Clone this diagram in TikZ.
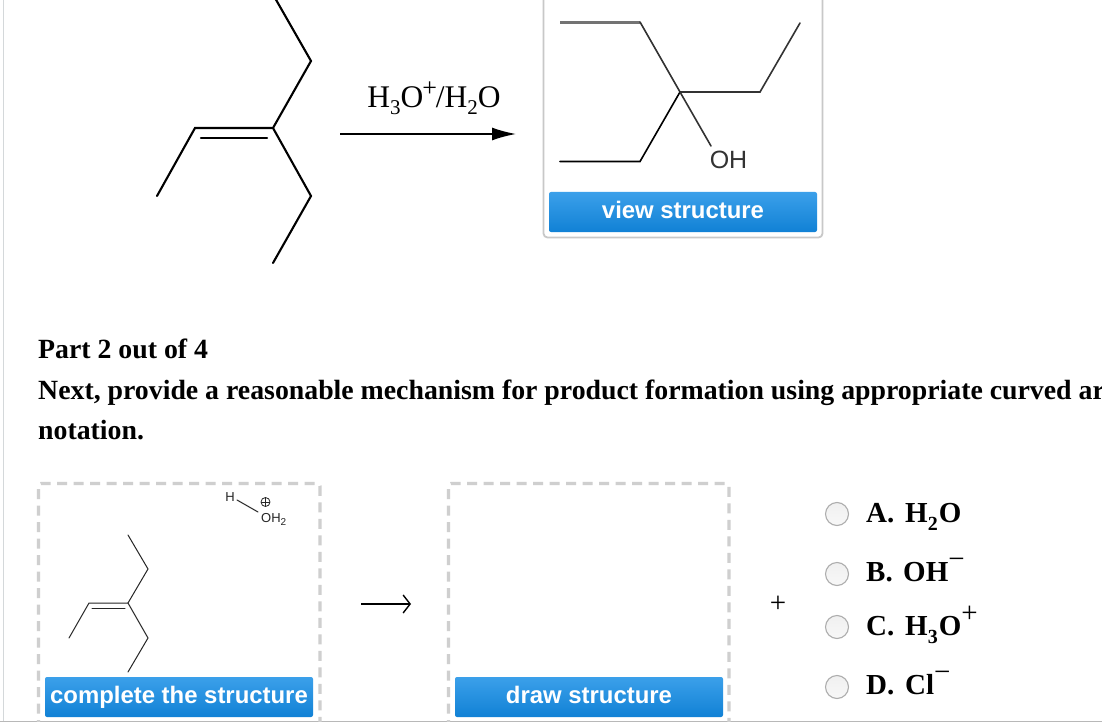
\documentclass[tikz,border=0pt]{standalone}
\usepackage{fontspec}
\setmainfont{Liberation Serif}
\setsansfont{Liberation Sans}
\usetikzlibrary{arrows.meta}
\definecolor{panelgray}{HTML}{C8C8C8}
\definecolor{dashgray}{HTML}{CFCFCF}
\definecolor{edgegray}{HTML}{D4D8DA}
\definecolor{btop}{HTML}{3BA0EA}
\definecolor{bbot}{HTML}{1181D5}
\tikzset{
  x=1pt,y=-1pt,
  bond/.style={line width=2.1pt,line cap=round,line join=miter,black},
  midbond/.style={line width=1.6pt,line cap=round,line join=miter,draw=black!80},
  thinbond/.style={line width=1pt,line cap=round,line join=miter,black!85},
  bluebtn/.style={rounded corners=2pt,top color=btop,bottom color=bbot,draw=none},
  btntext/.style={font=\sffamily\bfseries\fontsize{23.9}{24}\selectfont,text=white,inner sep=0pt,anchor=base},
  dashbox/.style={draw=dashgray,line width=3.2pt,dash pattern=on 10pt off 6.5pt,rounded corners=2.5pt},
  qtext/.style={font=\bfseries\fontsize{27.8}{28}\selectfont,anchor=base west,inner sep=0pt},
  opt/.style={font=\bfseries\fontsize{29}{29}\selectfont,anchor=base west,inner sep=0pt},
  radio/.style={circle,minimum size=23pt,inner sep=0pt,draw=black!32,line width=1.1pt,top color=black!6,bottom color=black!3},
}
\newcommand{\subs}[1]{\raisebox{-0.28em}{\fontsize{20}{20}\selectfont #1\kern1pt}}
\newcommand{\sups}[1]{\raisebox{0.42em}{\fontsize{29}{29}\mdseries\selectfont #1}}
\begin{document}
\begin{tikzpicture}
\useasboundingbox (0,0) rectangle (1102,722);
\clip (0,0) rectangle (1102,722);
\fill[white] (0,0) rectangle (1102,722);
% page edges
\draw[edgegray,line width=1.2pt] (3.5,0) -- (3.5,721);
\draw[black!28,line width=1.2pt] (0,721.5) -- (1102,721.5);

% reactant
\draw[bond] (275,-2) -- (311,61) -- (273,128) -- (195,128) -- (157,196);
\draw[bond] (273,128) -- (311,196) -- (273,263);
\draw[bond] (201,138) -- (267,138);

% reagent arrow
\coordinate (ra) at (340,134);
\coordinate (rb) at (516,134);
\draw[line width=1.5pt,-{Latex[length=24pt,width=13pt,inset=6pt]}] (ra) -- (rb);
\node[anchor=base,inner sep=0pt,font=\fontsize{31.5}{32}\selectfont] (reagent) at (434,108)
  {H\raisebox{-0.2em}{\fontsize{21}{21}\selectfont 3}O\raisebox{0.36em}{\fontsize{26}{26}\selectfont\kern-1pt+\kern-1pt}/H\raisebox{-0.2em}{\fontsize{21}{21}\selectfont 2}O};

% product panel
\draw[panelgray,line width=1.8pt,rounded corners=4pt] (543.5,-8) -- (543.5,237.5) -- (822.5,237.5) -- (822.5,-8);
\draw[black!55,line width=3pt] (560,22.5) -- (640,22.5);
\draw[midbond] (640,22) -- (680,92);
\draw[midbond] (680,92) -- (760,92) -- (800,23);
\draw[midbond,black] (560,161.5) -- (640,161.5) -- (680,92);
\draw[midbond] (680,92) -- (711,146);
\node[font=\sffamily\fontsize{25}{25}\selectfont,text=black!80,anchor=base,inner sep=0pt] (oh) at (728.5,168) {OH};
\node[bluebtn,minimum width=268pt,minimum height=40pt,inner sep=0pt] (viewbtn) at (683,212) {};
\node[btntext] at (683,218) {view structure};

% question
\node[qtext] (part) at (38,358) {Part 2 out of 4};
\node[qtext] (next) at (38,399) {Next, provide a reasonable mechanism for product formation using appropriate curved ar};
\node[qtext] (nota) at (38,439) {notation.};

% dashed boxes
\draw[dashbox] (38.5,730) -- (38.5,483.5) -- (320,483.5) -- (320,730);
\draw[dashbox] (448.5,730) -- (448.5,483.5) -- (729,483.5) -- (729,730);

% small molecule
\draw[thinbond] (128,535) -- (148,569) -- (128,603) -- (89,603) -- (69,638);
\draw[thinbond] (128,603) -- (148,638) -- (128,672);
\draw[thinbond] (92,608) -- (125,608);
\node[font=\sffamily\fontsize{13}{13}\selectfont,inner sep=0pt,anchor=base,text=black!85] (smallh) at (230,501) {H};
\node[font=\sffamily\fontsize{13}{13}\selectfont,inner sep=0pt,anchor=base west,text=black!85] (smallo) at (261,522) {OH\raisebox{-0.25em}{\fontsize{10}{10}\selectfont 2}};
\draw[thinbond] (237,500) -- (258,512);
\node[circle,draw=black!85,line width=0.8pt,minimum size=9pt,inner sep=0pt] (chg) at (265.5,502) {};
\draw[black!85,line width=0.8pt] (chg.west) -- (chg.east) (chg.north) -- (chg.south);

\node[bluebtn,minimum width=268pt,minimum height=40pt,inner sep=0pt] (cbtn) at (179,697) {};
\node[btntext] at (179,703) {complete the structure};
\node[bluebtn,minimum width=268pt,minimum height=40pt,inner sep=0pt] (dbtn) at (589,697) {};
\node[btntext] at (589,703) {draw structure};

% reaction arrow and plus
\coordinate (aa) at (361,604);
\coordinate (ab) at (411,604);
\draw[line width=1.4pt,-{Straight Barb[length=7pt,width=18pt,line width=1.4pt]}] (aa) -- (ab);
\node[font=\fontsize{29}{29}\selectfont,anchor=base,inner sep=0pt] (plus) at (778,612) {+};

% options
\node[radio] (ra1) at (837,514) {};
\node[radio] (ra2) at (837,574) {};
\node[radio] (ra3) at (837,627) {};
\node[radio] (ra4) at (837,687) {};
\node[opt] (a1) at (866,522) {A.};
\node[opt] (a2) at (905,522) {H\subs{2}O};
\node[opt] (b1) at (866,581) {B.};
\node[opt] (b2) at (903,581) {OH\sups{−}};
\node[opt] (c1) at (866,635) {C.};
\node[opt] (c2) at (905,635) {H\subs{3}O\sups{+}};
\node[opt] (d1) at (866,694) {D.};
\node[opt] (d2) at (905,694) {Cl\sups{−}};
\end{tikzpicture}
\end{document}
